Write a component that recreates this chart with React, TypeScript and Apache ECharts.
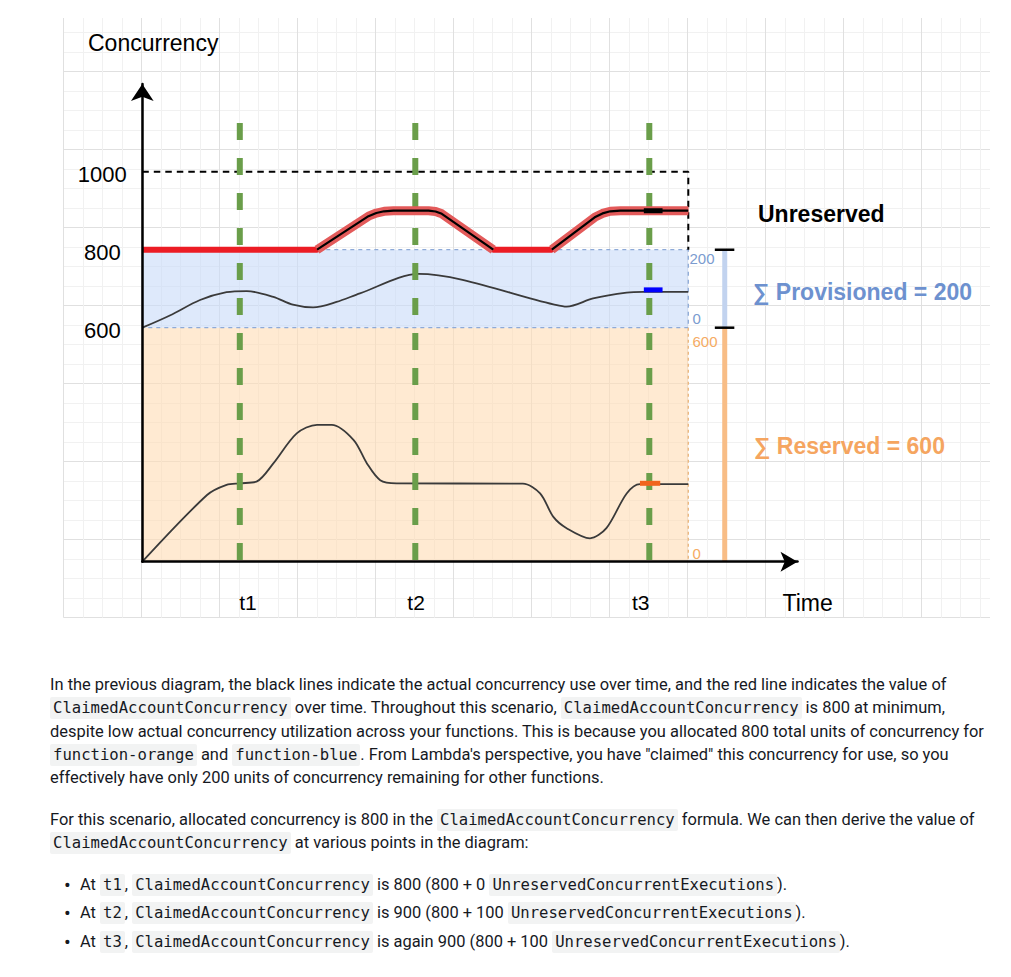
import React, { useEffect, useRef } from 'react';
import * as echarts from 'echarts';

// ---------- data ----------
const yTickValues = [600, 800, 1000];
const timeLabels = ['t1', 't2', 't3'];
const timeLabelPositions = [13.55, 35.1, 63.9];
const timeMarks = [12.5, 35, 65];
const timeMarkTop = 1125;
const dataEnd = 70;
const accountLimit = 1000;
const reservedTotal = 600;
const provisionedTotal = 200;
const allocatedTotal = reservedTotal + provisionedTotal;

// ClaimedAccountConcurrency (red line)
const claimedX = [0, 22.4, 29.0, 30.0, 31.0, 32.2, 36.7, 37.6, 38.4, 45, 52.5, 58.0, 59.0, 60.0, 61.3, 70];
const claimedY = [800, 800, 886, 894, 898.5, 900, 900, 898, 892, 800, 800, 883, 893, 898.5, 900, 900];
const bumpRanges = [[1, 9], [10, 15]];

// function-blue actual concurrency (provisioned band)
const blueX = [0, 3.6, 7.4, 10.8, 13.4, 16.8, 19.3, 21.9, 24.9, 27.9, 35.4, 52.7, 54.4, 57.8, 62.1, 64.2, 70];
const blueY = [600, 632, 671, 691, 694, 679, 659, 652, 666, 688, 738, 660, 654, 675, 690, 692, 692];

// function-orange actual concurrency (reserved band)
const orangeX = [0, 8.3, 10.8, 12.5, 14.7, 16.8, 19.8, 22.4, 24.3, 27.1, 28.8, 30.5, 32.6, 48.8, 51, 52.7, 54.4, 57.4, 59.5, 62.1, 63.8, 70];
const orangeY = [0, 171, 197, 201, 206, 252, 329, 351, 351, 312, 252, 209, 201, 200, 175, 115, 86, 60, 86, 175, 199, 199];

// markers at t3
const markerX = [64.3, 66.7];
const claimedMarkerY = 900;
const blueMarkerY = 697;
const orangeMarkerX = [63.8, 66.4];
const orangeMarkerY = 201;

// bracket on the right
const bracketX = 74.67;
const bracketTickX = [73.4, 75.9];

const zip = (xs: number[], ys: number[]) => xs.map((x, i) => [x, ys[i]]);

export default function App() {
  const ref = useRef<HTMLDivElement>(null);

  useEffect(() => {
    if (!ref.current) return;
    const chart = echarts.init(ref.current, undefined, { renderer: 'svg' });
    const font = '"Liberation Sans", Arial, Helvetica, sans-serif';
    const claimed = zip(claimedX, claimedY);
    const lineBase = (extra: any) => ({
      type: 'line',
      xAxisIndex: 1,
      yAxisIndex: 1,
      symbol: 'none',
      silent: true,
      ...extra,
    });

    const bgAxis = {
      type: 'value',
      min: 0,
      interval: 78,
      axisLine: { show: false },
      axisTick: { show: false },
      axisLabel: { show: false },
      splitLine: { show: true, showMaxLine: false, lineStyle: { color: '#e0e0e0', width: 1 } },
      minorTick: { show: false, splitNumber: 4 },
      minorSplitLine: { show: true, lineStyle: { color: '#f1f1f1', width: 1 } },
    };

    const series: any[] = [];
    series.push(
      lineBase({
        data: [[0, allocatedTotal], [dataEnd, allocatedTotal], [dataEnd, reservedTotal], [0, reservedTotal]],
        lineStyle: { color: '#8eaad8', width: 1.3, type: [4, 4] },
        markArea: {
          silent: true,
          data: [
            [{ coord: [0, 0], itemStyle: { color: 'rgba(255,220,180,0.6)' } }, { coord: [dataEnd, reservedTotal] }],
            [{ coord: [0, reservedTotal], itemStyle: { color: 'rgba(200,218,248,0.6)' } }, { coord: [dataEnd, allocatedTotal] }],
          ],
        },
      })
    );
    series.push(
      lineBase({
        data: [[dataEnd, reservedTotal], [dataEnd, 0]],
        lineStyle: { color: '#eab67c', width: 1.3, type: [3, 3] },
      })
    );
    series.push(
      lineBase({
        data: [[0, accountLimit], [dataEnd, accountLimit], [dataEnd, allocatedTotal]],
        lineStyle: { color: '#000', width: 2, type: [6.5, 5] },
      })
    );
    series.push(lineBase({ data: zip(blueX, blueY), smooth: 0.3, lineStyle: { color: '#3a3a3a', width: 1.8 } }));
    series.push(lineBase({ data: zip(orangeX, orangeY), smooth: 0.3, lineStyle: { color: '#3a3a3a', width: 1.8 } }));
    timeMarks.forEach((t) => {
      series.push(
        lineBase({
          data: [[t, timeMarkTop], [t, 0]],
          lineStyle: { color: '#6a9e4a', width: 6, type: [17, 18], cap: 'butt' },
        })
      );
    });
    series.push(lineBase({ data: claimed, lineStyle: { color: '#ec1c24', width: 6 } }));
    bumpRanges.forEach(([a, b]) => {
      series.push(lineBase({ data: claimed.slice(a, b + 1), lineStyle: { color: '#e35a5a', width: 9, join: 'round' } }));
    });
    bumpRanges.forEach(([a, b]) => {
      series.push(lineBase({ data: claimed.slice(a, b + 1), lineStyle: { color: '#000', width: 2.2, join: 'round' } }));
    });
    series.push(lineBase({ data: markerX.map((x) => [x, claimedMarkerY]), lineStyle: { color: '#000', width: 5 } }));
    series.push(lineBase({ data: markerX.map((x) => [x, blueMarkerY]), lineStyle: { color: '#0000ff', width: 5 } }));
    series.push(lineBase({ data: orangeMarkerX.map((x) => [x, orangeMarkerY]), lineStyle: { color: '#f0641e', width: 5 } }));
    series.push(lineBase({ data: [[bracketX, allocatedTotal], [bracketX, reservedTotal]], lineStyle: { color: '#c2d3ef', width: 5 } }));
    series.push(lineBase({ data: [[bracketX, reservedTotal], [bracketX, 0]], lineStyle: { color: '#f8bd86', width: 5 } }));
    series.push(lineBase({ data: bracketTickX.map((x) => [x, allocatedTotal]), lineStyle: { color: '#000', width: 2.5 } }));
    series.push(lineBase({ data: bracketTickX.map((x) => [x, reservedTotal]), lineStyle: { color: '#000', width: 2.5 } }));

    const txt = (text: string, x: number, y: number, size: number, color: string, weight = 'normal') => ({
      type: 'text',
      x,
      y,
      z: 100,
      silent: true,
      style: {
        text,
        fill: color,
        font: `${weight} ${size}px ${font}`,
        align: 'left',
        verticalAlign: 'middle',
        textAlign: 'left',
        textVerticalAlign: 'middle',
      },
    });

    chart.setOption({
      animation: false,
      grid: [
        { left: 63.7, top: 18, width: 926.3, height: 599.7, outerBoundsMode: 'none', containLabel: false },
        { left: 142.3, top: 83.95, width: 655.2, height: 477.75, outerBoundsMode: 'none', containLabel: false },
      ],
      xAxis: [
        { ...bgAxis, gridIndex: 0, max: 926.3 },
        {
          type: 'value',
          gridIndex: 1,
          min: 0,
          max: 84,
          z: 5,
          splitLine: { show: false },
          axisTick: { show: false },
          axisLine: { show: true, symbol: ['none', 'arrow'], symbolSize: [15, 17], lineStyle: { color: '#000', width: 2.5 } },
          axisLabel: {
            show: true,
            customValues: timeLabelPositions,
            formatter: (v: number) => {
              const i = timeLabelPositions.findIndex((p) => Math.abs(p - v) < 0.01);
              return i >= 0 ? timeLabels[i] : '';
            },
            color: '#000',
            fontSize: 21,
            fontFamily: font,
            margin: 41,
            verticalAlign: 'middle',
            align: 'center',
          },
        },
      ],
      yAxis: [
        { ...bgAxis, gridIndex: 0, max: 599.7 },
        {
          type: 'value',
          gridIndex: 1,
          min: 0,
          max: 1225,
          z: 5,
          splitLine: { show: false },
          axisTick: { show: false },
          axisLine: { show: true, symbol: ['none', 'arrow'], symbolSize: [17, 17], lineStyle: { color: '#000', width: 2.5 } },
          axisLabel: {
            show: true,
            customValues: yTickValues,
            formatter: (v: number) => (yTickValues.includes(v) ? `{v|${v}}` : ''),
            rich: {
              v: { color: '#000', fontSize: 22, fontFamily: font, padding: [6, 0, 0, 0] },
            },
            color: '#000',
            fontSize: 22,
            fontFamily: font,
            margin: 40,
            align: 'center',
            verticalAlign: 'middle',
          },
        },
      ],
      graphic: [
        txt('Concurrency', 88, 43, 23, '#000'),
        txt('Time', 782.5, 603, 23, '#000'),
        txt('Unreserved', 758, 213.5, 23, '#000', 'bold'),
        txt('∑ Provisioned = 200', 753, 292, 23, '#6d91cf', 'bold'),
        txt('∑ Reserved = 600', 754, 446, 23, '#f5a560', 'bold'),
        txt('200', 689.5, 258, 15, '#7b9ccf'),
        txt('0', 692.5, 318, 15, '#7b9ccf'),
        txt('600', 692.5, 341, 15, '#f5ab63'),
        txt('0', 692.5, 553, 15, '#f5ab63'),
      ],
      series,
    });
    return () => chart.dispose();
  }, []);

  const codeStyle: React.CSSProperties = {
    fontFamily: '"DejaVu Sans Mono", monospace',
    fontSize: 15.6,
    background: '#f2f3f3',
    padding: '2px 3px',
    borderRadius: 2,
    color: '#16191f',
  };
  const C = ({ children }: { children: React.ReactNode }) => <span style={codeStyle}>{children}</span>;
  const Line = ({ y, x = 50, children, size }: { y: number; x?: number; children: React.ReactNode; size?: number }) => (
    <div style={{ position: 'absolute', left: x, top: y - 12, height: 24, lineHeight: '24px', whiteSpace: 'nowrap', fontSize: size }}>{children}</div>
  );

  return (
    <div
      style={{
        position: 'absolute',
        left: 0,
        top: 0,
        width: 1011,
        height: 977,
        overflow: 'hidden',
        background: '#fff',
        fontFamily: 'Roboto, "Noto Sans", sans-serif',
        fontSize: 16.45,
        color: '#16191f',
      }}
    >
      <div ref={ref} style={{ position: 'absolute', left: 0, top: 0, width: 1011, height: 640 }} />
      <Line y={685}>In the previous diagram, the black lines indicate the actual concurrency use over time, and the red line indicates the value of</Line>
      <Line y={708.3}>
        <C>ClaimedAccountConcurrency</C> over time. Throughout this scenario, <C>ClaimedAccountConcurrency</C> is 800 at minimum,
      </Line>
      <Line y={731.7}>despite low actual concurrency utilization across your functions. This is because you allocated 800 total units of concurrency for</Line>
      <Line y={755}>
        <C>function-orange</C> and <C>function-blue</C>. From Lambda's perspective, you have "claimed" this concurrency for use, so you
      </Line>
      <Line y={778.3}>effectively have only 200 units of concurrency remaining for other functions.</Line>
      <Line y={820}>
        For this scenario, allocated concurrency is 800 in the <C>ClaimedAccountConcurrency</C> formula. We can then derive the value of
      </Line>
      <Line y={843.3}>
        <C>ClaimedAccountConcurrency</C> at various points in the diagram:
      </Line>
      {[
        ['t1', 'is 800 (800 + 0 '],
        ['t2', 'is 900 (800 + 100 '],
        ['t3', 'is again 900 (800 + 100 '],
      ].map(([t, rest], i) => (
        <React.Fragment key={t}>
          <Line y={885 + i * 28.35} x={64} size={20}>•</Line>
          <Line y={885 + i * 28.35} x={80}>
            At <C>{t}</C>, <C>ClaimedAccountConcurrency</C> {rest}
            <C>UnreservedConcurrentExecutions</C>).
          </Line>
        </React.Fragment>
      ))}
    </div>
  );
}
